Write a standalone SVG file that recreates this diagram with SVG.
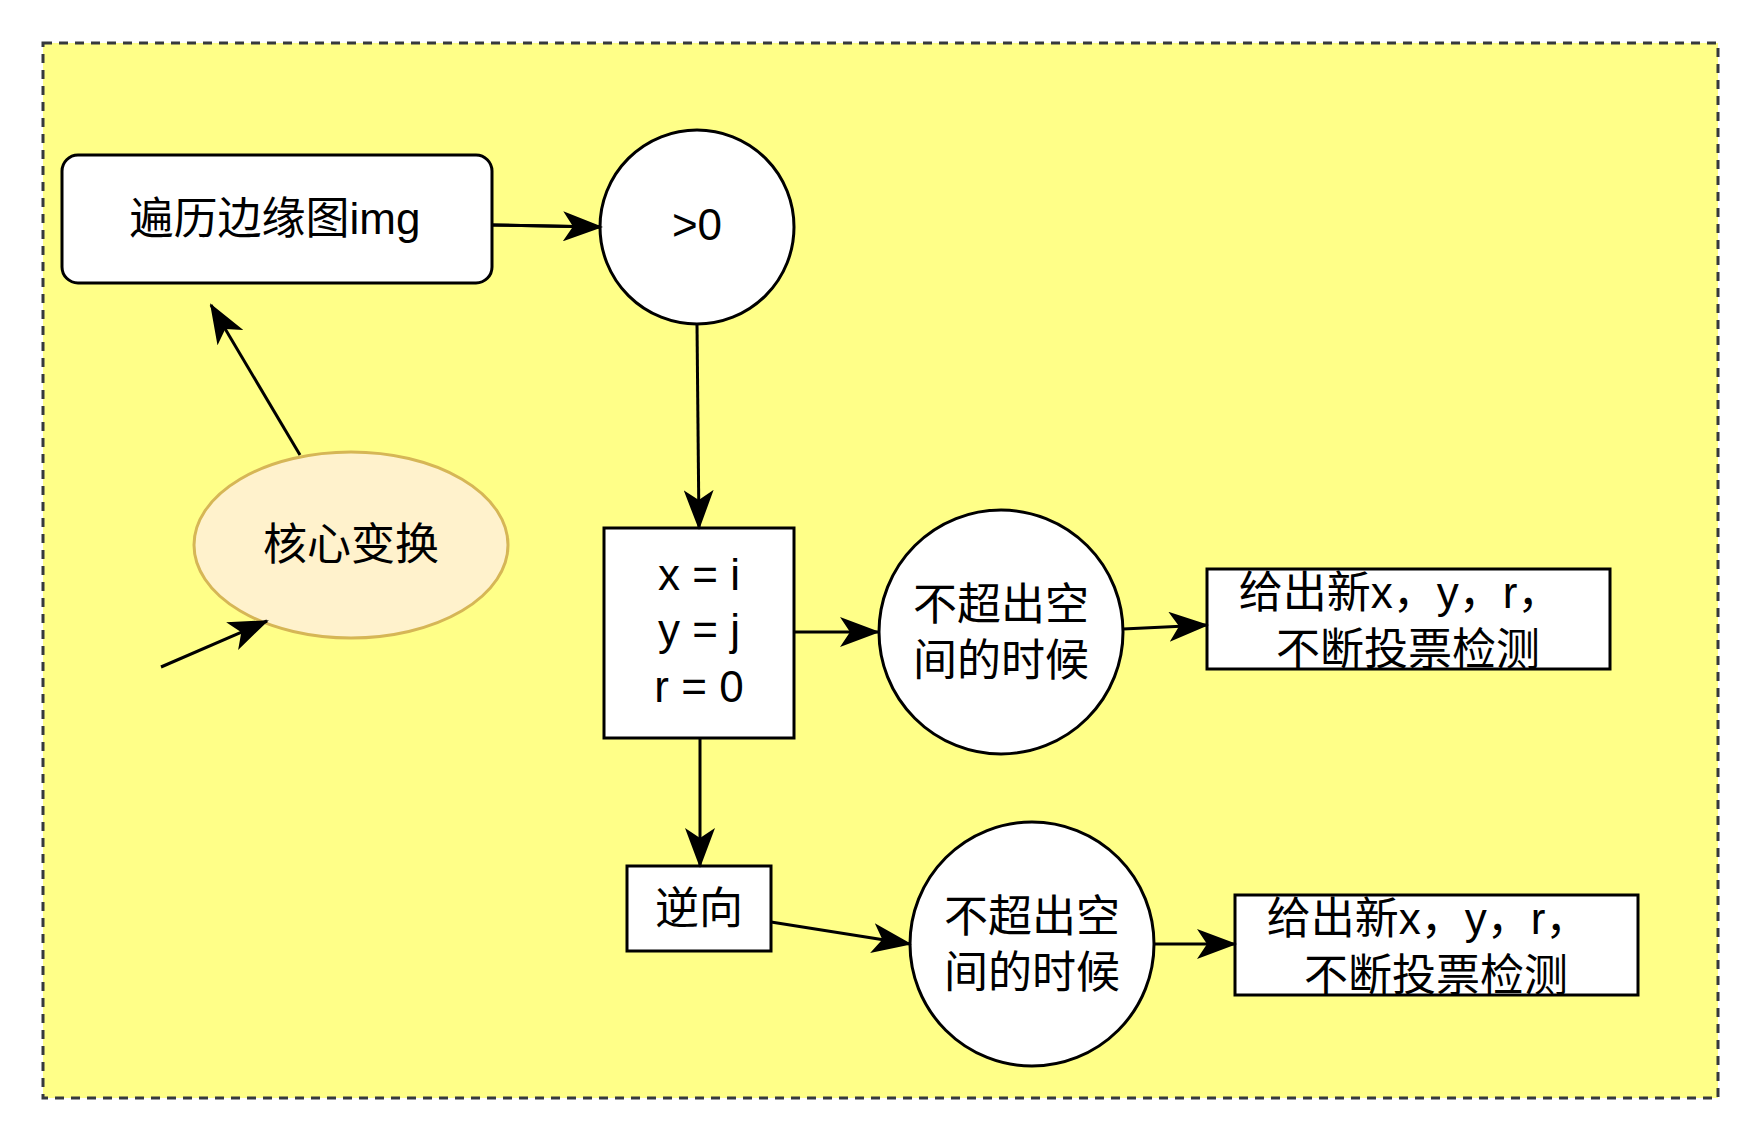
<svg xmlns="http://www.w3.org/2000/svg" width="1752" height="1136" viewBox="0 0 1752 1136">
<style>
.s{fill:#fff;stroke:#000;stroke-width:3}
.t{font-family:"Liberation Sans","Noto Sans CJK SC",sans-serif;font-size:44px;fill:#000;text-anchor:middle}
.c{stroke:#000;stroke-width:3;fill:none;marker-end:url(#a)}
</style>
<defs><marker id="a" markerWidth="12" markerHeight="10" refX="10" refY="5" orient="auto" markerUnits="userSpaceOnUse" viewBox="0 0 12 10"><path d="M0,0L12,5L0,10L3,5Z" fill="#000"/></marker></defs>
<rect x="43" y="43" width="1675" height="1055" fill="#ffff88" stroke="#36393d" stroke-width="3" stroke-dasharray="9,7"/>
<g id="edges">
<line class="c" x1="492" y1="225" x2="601" y2="227" style="marker-end:none"/>
</g>
<g id="n1"><rect class="s" x="62" y="155" width="430" height="128" rx="16"/><text class="t" x="275" y="234">遍历边缘图img</text></g>
<g id="n2"><circle class="s" cx="697" cy="227" r="97"/><text class="t" x="697" y="240">&gt;0</text></g>
<g id="n3"><ellipse cx="351" cy="545" rx="157" ry="93" fill="#fff2cc" stroke="#d6b656" stroke-width="3"/><text class="t" x="351" y="560">核心变换</text></g>
<g id="n4"><rect class="s" x="604" y="528" width="190" height="210"/><text class="t" x="699" y="590">x = i</text><text class="t" x="699" y="645">y = j</text><text class="t" x="699" y="702">r = 0</text></g>
<g id="n5"><circle class="s" cx="1001" cy="632" r="122"/><text class="t" x="1001" y="620">不超出空</text><text class="t" x="1001" y="676">间的时候</text></g>
<g id="n6"><rect class="s" x="1207" y="569" width="403" height="100"/><text class="t" x="1400" y="608">给出新x，y，r，</text><text class="t" x="1408" y="665">不断投票检测</text></g>
<g id="n7"><rect class="s" x="627" y="866" width="144" height="85"/><text class="t" x="699" y="924">逆向</text></g>
<g id="n8"><circle class="s" cx="1032" cy="944" r="122"/><text class="t" x="1032" y="932">不超出空</text><text class="t" x="1032" y="988">间的时候</text></g>
<g id="n9"><rect class="s" x="1235" y="895" width="403" height="100"/><text class="t" x="1428" y="934">给出新x，y，r，</text><text class="t" x="1436" y="991">不断投票检测</text></g>
<g id="connectors">
<marker id="b" markerWidth="40" markerHeight="30" refX="38" refY="15" orient="auto" markerUnits="userSpaceOnUse"><path d="M0,0L40,15L0,30L10,15Z" fill="#000"/></marker>
<line x1="492" y1="225" x2="601" y2="227" stroke="#000" stroke-width="3" marker-end="url(#b)"/>
<line x1="300" y1="455" x2="211" y2="305" stroke="#000" stroke-width="3" marker-end="url(#b)"/>
<line x1="161" y1="667" x2="267" y2="621" stroke="#000" stroke-width="3" marker-end="url(#b)"/>
<line x1="697" y1="324" x2="699" y2="528" stroke="#000" stroke-width="3" marker-end="url(#b)"/>
<line x1="794" y1="632" x2="878" y2="632" stroke="#000" stroke-width="3" marker-end="url(#b)"/>
<line x1="1123" y1="629" x2="1207" y2="625" stroke="#000" stroke-width="3" marker-end="url(#b)"/>
<line x1="700" y1="738" x2="700" y2="866" stroke="#000" stroke-width="3" marker-end="url(#b)"/>
<line x1="771" y1="922" x2="910" y2="944" stroke="#000" stroke-width="3" marker-end="url(#b)"/>
<line x1="1154" y1="944" x2="1235" y2="944" stroke="#000" stroke-width="3" marker-end="url(#b)"/>
</g>
</svg>
